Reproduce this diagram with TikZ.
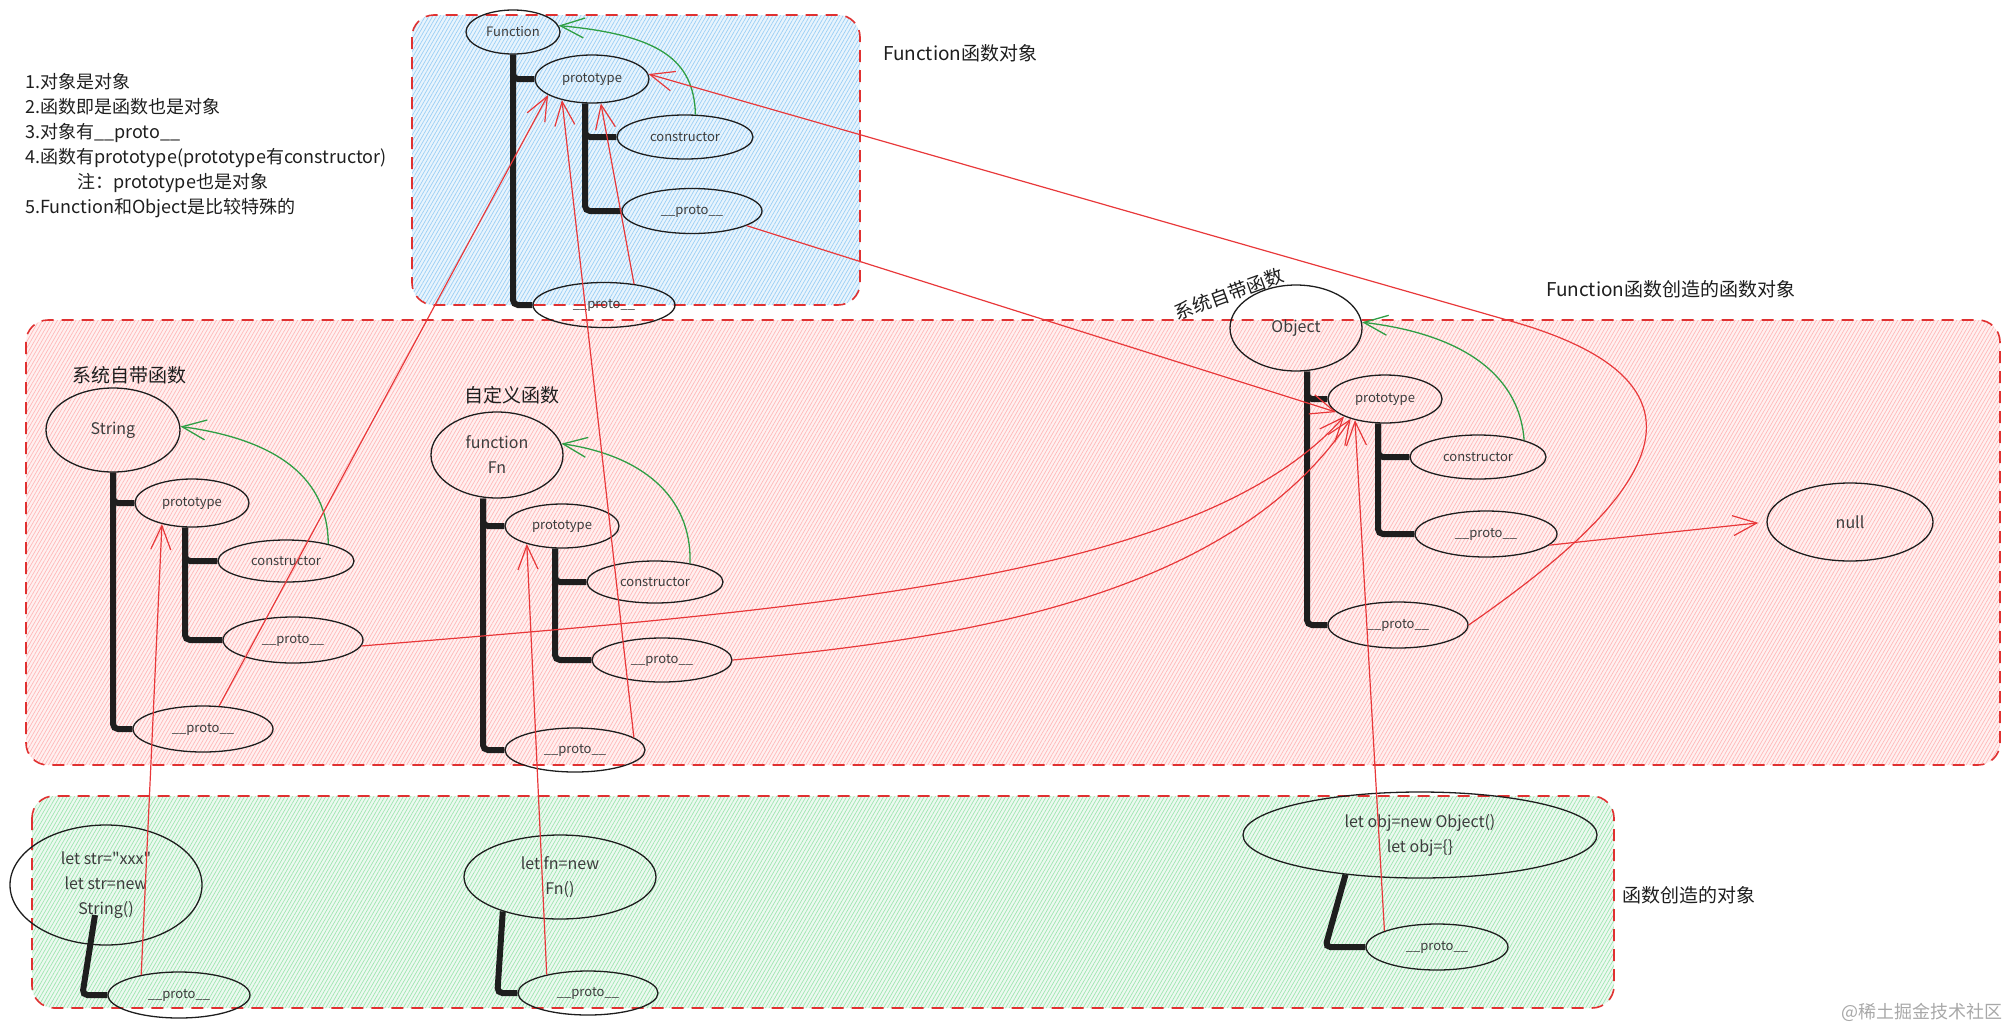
\documentclass[tikz,border=0pt]{standalone}
\usepackage{fontspec}
\setmainfont{Noto Sans CJK SC}[Ligatures=TeXOff]
\usetikzlibrary{calc,arrows.meta,shapes.geometric,patterns.meta}

\definecolor{boxred}{HTML}{E03131}
\definecolor{linkred}{HTML}{E8383A}
\definecolor{linkgreen}{HTML}{2F9E44}
\definecolor{ink}{HTML}{1E1E1E}
\definecolor{inktext}{HTML}{3C3C3C}
\definecolor{wmgray}{HTML}{A8A8A8}
\definecolor{fillblue}{HTML}{E8F4FD}
\definecolor{hatchblue}{HTML}{9ACFF5}
\definecolor{fillred}{HTML}{FFF0F0}
\definecolor{hatchred}{HTML}{FFB8B8}
\definecolor{fillgreen}{HTML}{ECF9F0}
\definecolor{hatchgreen}{HTML}{9EE6B0}

\tikzset{>={Straight Barb[length=24pt,width=20pt]},
  region/.style={rounded corners=22pt},
  box/.style={region,draw=boxred,line width=1.6pt,dash pattern=on 12pt off 8pt},
  obj/.style 2 args={ellipse,draw=ink,line width=1.3pt,inner sep=0pt,
    minimum width=#1pt,minimum height=#2pt,text=inktext,font=\fontsize{13}{15}\selectfont},
  big/.style={font=\fontsize{16}{25}\selectfont},
  lbl/.style={text=ink,inner sep=0pt,font=\fontsize{19}{25}\selectfont},
  tree/.style={draw=ink,line width=6pt,rounded corners=5pt},
  proto/.style={->,draw=linkred,line width=1.2pt},
  ctor/.style={->,draw=linkgreen,line width=1.3pt}}

\begin{document}
\begin{tikzpicture}[x=1pt,y=-1pt]
    \useasboundingbox (0,0) rectangle (2012,1028);
    \foreach \xa/\ya/\xb/\yb/\tone in {412/15/860/305/blue,26/320/2000/765/red,32/796/1614/1008/green} {
        \fill[region,fill\tone] (\xa,\ya) rectangle (\xb,\yb);
        \fill[region,pattern={Lines[angle=60,distance=3.2pt,line width=0.7pt]},pattern color=hatch\tone] (\xa,\ya) rectangle (\xb,\yb);
        \draw[box] (\xa,\ya) rectangle (\xb,\yb);
      }

    \node[lbl,anchor=west,align=left,font=\fontsize{18}{25}\selectfont] (notes) at (25,146) {1.对象是对象\\2.函数即是函数也是对象\\3.对象有\_\_proto\_\_\\4.函数有prototype(prototype有constructor)\\\hspace*{52pt}注：prototype也是对象\\5.Function和Object是比较特殊的};
    \node[lbl,anchor=west] (fTitle) at (883,53) {Function函数对象};
    \node[lbl,anchor=west] (rTitle) at (1546,289) {Function函数创造的函数对象};
    \node[lbl,anchor=west] (gTitle) at (1622,895) {函数创造的对象};
    \node[anchor=east,text=wmgray,font=\fontsize{18}{20}\selectfont] (stamp) at (2006,1012) {@稀土掘金技术社区};

    \node[obj={94}{44}] (fFunc) at (513,32) {Function};
    \node[obj={114}{48}] (fProto) at (592,79) {prototype};
    \node[obj={136}{44}] (fCons) at (685,137) {constructor};
    \node[obj={140}{45}] (fInner) at (692,211) {\_\_proto\_\_};
    \node[obj={142}{45}] (fOwn) at (604,305) {\_\_proto\_\_};

    \node[lbl] (sTitle) at (129,375) {系统自带函数};
    \node[obj={134}{84},big] (sStr) at (113,430) {String};
    \node[obj={114}{48}] (sProto) at (192,503) {prototype};
    \node[obj={136}{42}] (sCons) at (286,561) {constructor};
    \node[obj={140}{46}] (sInner) at (293,640) {\_\_proto\_\_};
    \node[obj={140}{46}] (sOwn) at (203,729) {\_\_proto\_\_};

    \node[lbl] (nTitle) at (512,395) {自定义函数};
    \node[obj={132}{86},big,align=center] (nFn) at (497,455) {function\\Fn};
    \node[obj={114}{44}] (nProto) at (562,526) {prototype};
    \node[obj={136}{42}] (nCons) at (655,582) {constructor};
    \node[obj={140}{44}] (nInner) at (662,660) {\_\_proto\_\_};
    \node[obj={140}{44}] (nOwn) at (575,750) {\_\_proto\_\_};

    \node[lbl,rotate=20] (oTitle) at (1229,294) {系统自带函数};
    \node[obj={132}{86},big] (oObj) at (1296,328) {Object};
    \node[obj={114}{48}] (oProto) at (1385,399) {prototype};
    \node[obj={136}{44}] (oCons) at (1478,457) {constructor};
    \node[obj={142}{46}] (oInner) at (1486,534) {\_\_proto\_\_};
    \node[obj={140}{46}] (oOwn) at (1398,625) {\_\_proto\_\_};
    \node[obj={166}{78},big] (oNull) at (1850,522) {null};

    \node[obj={192}{120},big,align=center] (gStr) at (106,885) {let str="xxx"\\let str=new\\String()};
    \node[obj={142}{46}] (gStrP) at (179,995) {\_\_proto\_\_};
    \node[obj={192}{84},big,align=center] (gFn) at (560,877) {let fn=new\\Fn()};
    \node[obj={140}{44}] (gFnP) at (588,993) {\_\_proto\_\_};
    \node[obj={354}{86},big,align=center] (gObj) at (1420,835) {let obj=new Object()\\let obj=\{\}};
    \node[obj={142}{46}] (gObjP) at (1437,947) {\_\_proto\_\_};

    \draw[tree] (fFunc.south) |- (fOwn.west);
    \draw[tree] (fProto.west) -| (fFunc.south);
    \draw[tree] ([xshift=-7pt]fProto.south) |- (fInner.west);
    \draw[tree] (fCons.west) -| ([xshift=-7pt]fProto.south);
    \draw[tree] (sStr.south) |- (sOwn.west);
    \draw[tree] (sProto.west) -| (sStr.south);
    \draw[tree] ([xshift=-7pt]sProto.south) |- (sInner.west);
    \draw[tree] (sCons.west) -| ([xshift=-7pt]sProto.south);
    \draw[tree] ([xshift=-14pt]nFn.south) |- (nOwn.west);
    \draw[tree] (nProto.west) -| ([xshift=-14pt]nFn.south);
    \draw[tree] ([xshift=-7pt]nProto.south) |- (nInner.west);
    \draw[tree] (nCons.west) -| ([xshift=-7pt]nProto.south);
    \draw[tree] ([xshift=11pt]oObj.south) |- (oOwn.west);
    \draw[tree] (oProto.west) -| ([xshift=11pt]oObj.south);
    \draw[tree] ([xshift=-7pt]oProto.south) |- (oInner.west);
    \draw[tree] (oCons.west) -| ([xshift=-7pt]oProto.south);
    \draw[tree] ($(gStr.center)+(-11,30)$) -- ([xshift=-25pt]gStrP.west) -- (gStrP.west);
    \draw[tree] (gFn.211) -- ([xshift=-20pt]gFnP.west) -- (gFnP.west);
    \draw[tree] (gObj.208) -- ([xshift=-40pt]gObjP.west) -- (gObjP.west);

    \draw[ctor] (fCons.65) .. controls (694,60) and (660,35) .. (fFunc.8);
    \draw[ctor] (sCons.22) .. controls (328,480) and (280,440) .. (sStr.3);
    \draw[ctor] (nCons.28) .. controls (692,495) and (640,455) .. (nFn.10);
    \draw[ctor] (oCons.20) .. controls (1520,380) and (1470,335) .. (oObj.5);

    \draw[proto] (sOwn.55) -- (fProto.200);
    \draw[proto] (nOwn.12) -- (fProto.215);
    \draw[proto] (fOwn.35) -- (fProto.290);
    \draw[proto] (fInner.345) -- (oProto.195);
    \draw[proto] (sInner.355) .. controls (800,610) and (1200,580) .. (oProto.203);
    \draw[proto] (nInner.east) .. controls (950,640) and (1230,600) .. (oProto.210);
    \draw[proto] (oOwn.east) .. controls (1620,520) and (1760,390) .. (1507,320) -- (fProto.5);
    \draw[proto,shorten >=8pt] (oInner.350) -- (oNull.west);
    \draw[proto] (gStrP.152) -- (sProto.215);
    \draw[proto] (gFnP.156) -- (nProto.207);
    \draw[proto] (gObjP.163) -- (oProto.215);
  \end{tikzpicture}
\end{document}
